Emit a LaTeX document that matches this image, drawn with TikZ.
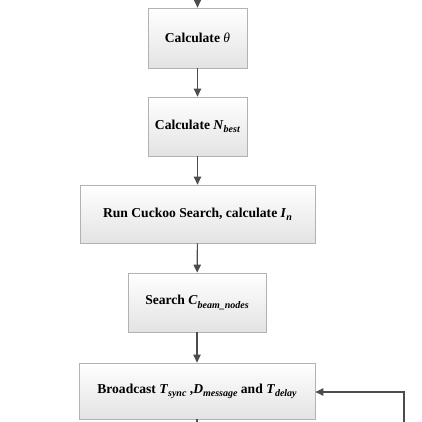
\documentclass[tikz,border=0pt]{standalone}
\usepackage{fontspec}
\setmainfont{Liberation Serif}
\usetikzlibrary{arrows.meta,shadows}
\colorlet{box edge}{black!30}
\colorlet{box low}{black!11}
\colorlet{flow line}{black!70}
\tikzset{
  shaded/.style={top color=white, bottom color=box low},
  framed/.style={draw=box edge, line width=0.8pt}
  }
\tikzstyle{block} = [shaded, framed, rectangle, inner sep=0pt, font=\bfseries\fontsize{13.6}{15}\selectfont, drop shadow={shadow xshift=1.2pt, shadow yshift=-1.2pt, fill=black!30, opacity=0.5}]
\tikzstyle{flow} = [draw=flow line, line width=1.1pt, -{Triangle[length=8pt, width=7.5pt]}]
\newcommand{\var}[2]{\textit{#1}\raisebox{-0.5ex}{\fontsize{10}{11}\selectfont\textit{#2}}}

\begin{document}
\begin{tikzpicture}[x=1pt, y=1pt]

    \useasboundingbox (0,0) rectangle (422,-422);

    % The steps of the procedure
    \node[block, minimum width=99pt, minimum height=60pt] (theta) at (197.5,-38) {Calculate \textit{\mdseries θ}};
    \node[block, minimum width=99pt, minimum height=59pt] (best) at (197.5,-126.5) {Calculate \var{N}{best}};
    \node[block, minimum width=235pt, minimum height=58pt] (cuckoo) at (197.5,-214) {Run Cuckoo Search, calculate \var{I}{n}};
    \node[block, minimum width=138pt, minimum height=59pt] (beam) at (197,-302.5) {Search \var{C}{beam\_nodes}};
    \node[block, minimum width=236pt, minimum height=56pt] (cast) at (197,-391) {Broadcast \var{T}{sync} ,\var{D}{message} and \var{T}{delay}};

    % the loose ends
    \coordinate (in) at (197.5,2);
    \coordinate (out) at (197,-424);
    \coordinate (back low) at (404,-424);
    \coordinate (back turn) at (404,-392);

    % The connections between them
    \foreach \source/\sink in {in/theta, theta/best, best/cuckoo, cuckoo/beam, beam/cast}
      \path[flow] (\source) -- (\sink);

    \path[flow] (back low) -- (back turn) -- (cast.east |- back turn);
    \path[draw=flow line, line width=1.1pt] (cast) -- (out);

\end{tikzpicture}
\end{document}
